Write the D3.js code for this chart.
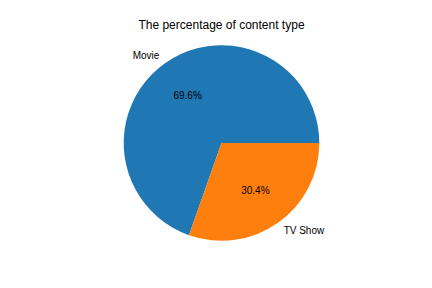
<!DOCTYPE html>
<html><head><meta charset="utf-8">
<script src="https://cdn.jsdelivr.net/npm/d3@7"></script>
<style>body{margin:0;background:#fff}svg{display:block}text{font-family:"Liberation Sans",Arial,sans-serif;fill:#000}</style>
</head><body>
<svg id="c" width="432" height="288"></svg>
<script>
const categories = ["Movie", "TV Show"];
const values = [69.6, 30.4];
const colors = ["#1f77b4", "#ff7f0e"];
const title = "The percentage of content type";

const svg = d3.select("#c");
const cx = 221.5, cy = 143, r = 97.8;
const g = svg.append("g").attr("transform", `translate(${cx},${cy})`);

// matplotlib: start at 3 o'clock, counterclockwise
const pie = d3.pie().sort(null).value(d => d)
  .startAngle(Math.PI / 2).endAngle(Math.PI / 2 - 2 * Math.PI);
const arcs = pie(values);
const arc = d3.arc().innerRadius(0).outerRadius(r);

g.selectAll("path").data(arcs).join("path")
  .attr("d", arc).attr("fill", (d, i) => colors[i]);

function pos(d, f) {
  const a = (d.startAngle + d.endAngle) / 2; // d3 angle: 0 at top, clockwise
  return [Math.sin(a) * r * f, -Math.cos(a) * r * f];
}

arcs.forEach((d, i) => {
  const [lx, ly] = pos(d, 1.1);
  g.append("text").attr("x", lx).attr("y", ly).attr("dy", "0.35em")
    .attr("text-anchor", lx < 0 ? "end" : "start")
    .attr("font-size", 10).text(categories[i]);
  const [px, py] = pos(d, 0.6);
  g.append("text").attr("x", px).attr("y", py).attr("dy", "0.35em")
    .attr("text-anchor", "middle").attr("font-size", 10)
    .text(d3.format(".1f")(values[i]) + "%");
});

svg.append("text").attr("x", cx).attr("y", 28.5).attr("text-anchor", "middle")
  .attr("font-size", 12).text(title);
</script>
</body></html>
